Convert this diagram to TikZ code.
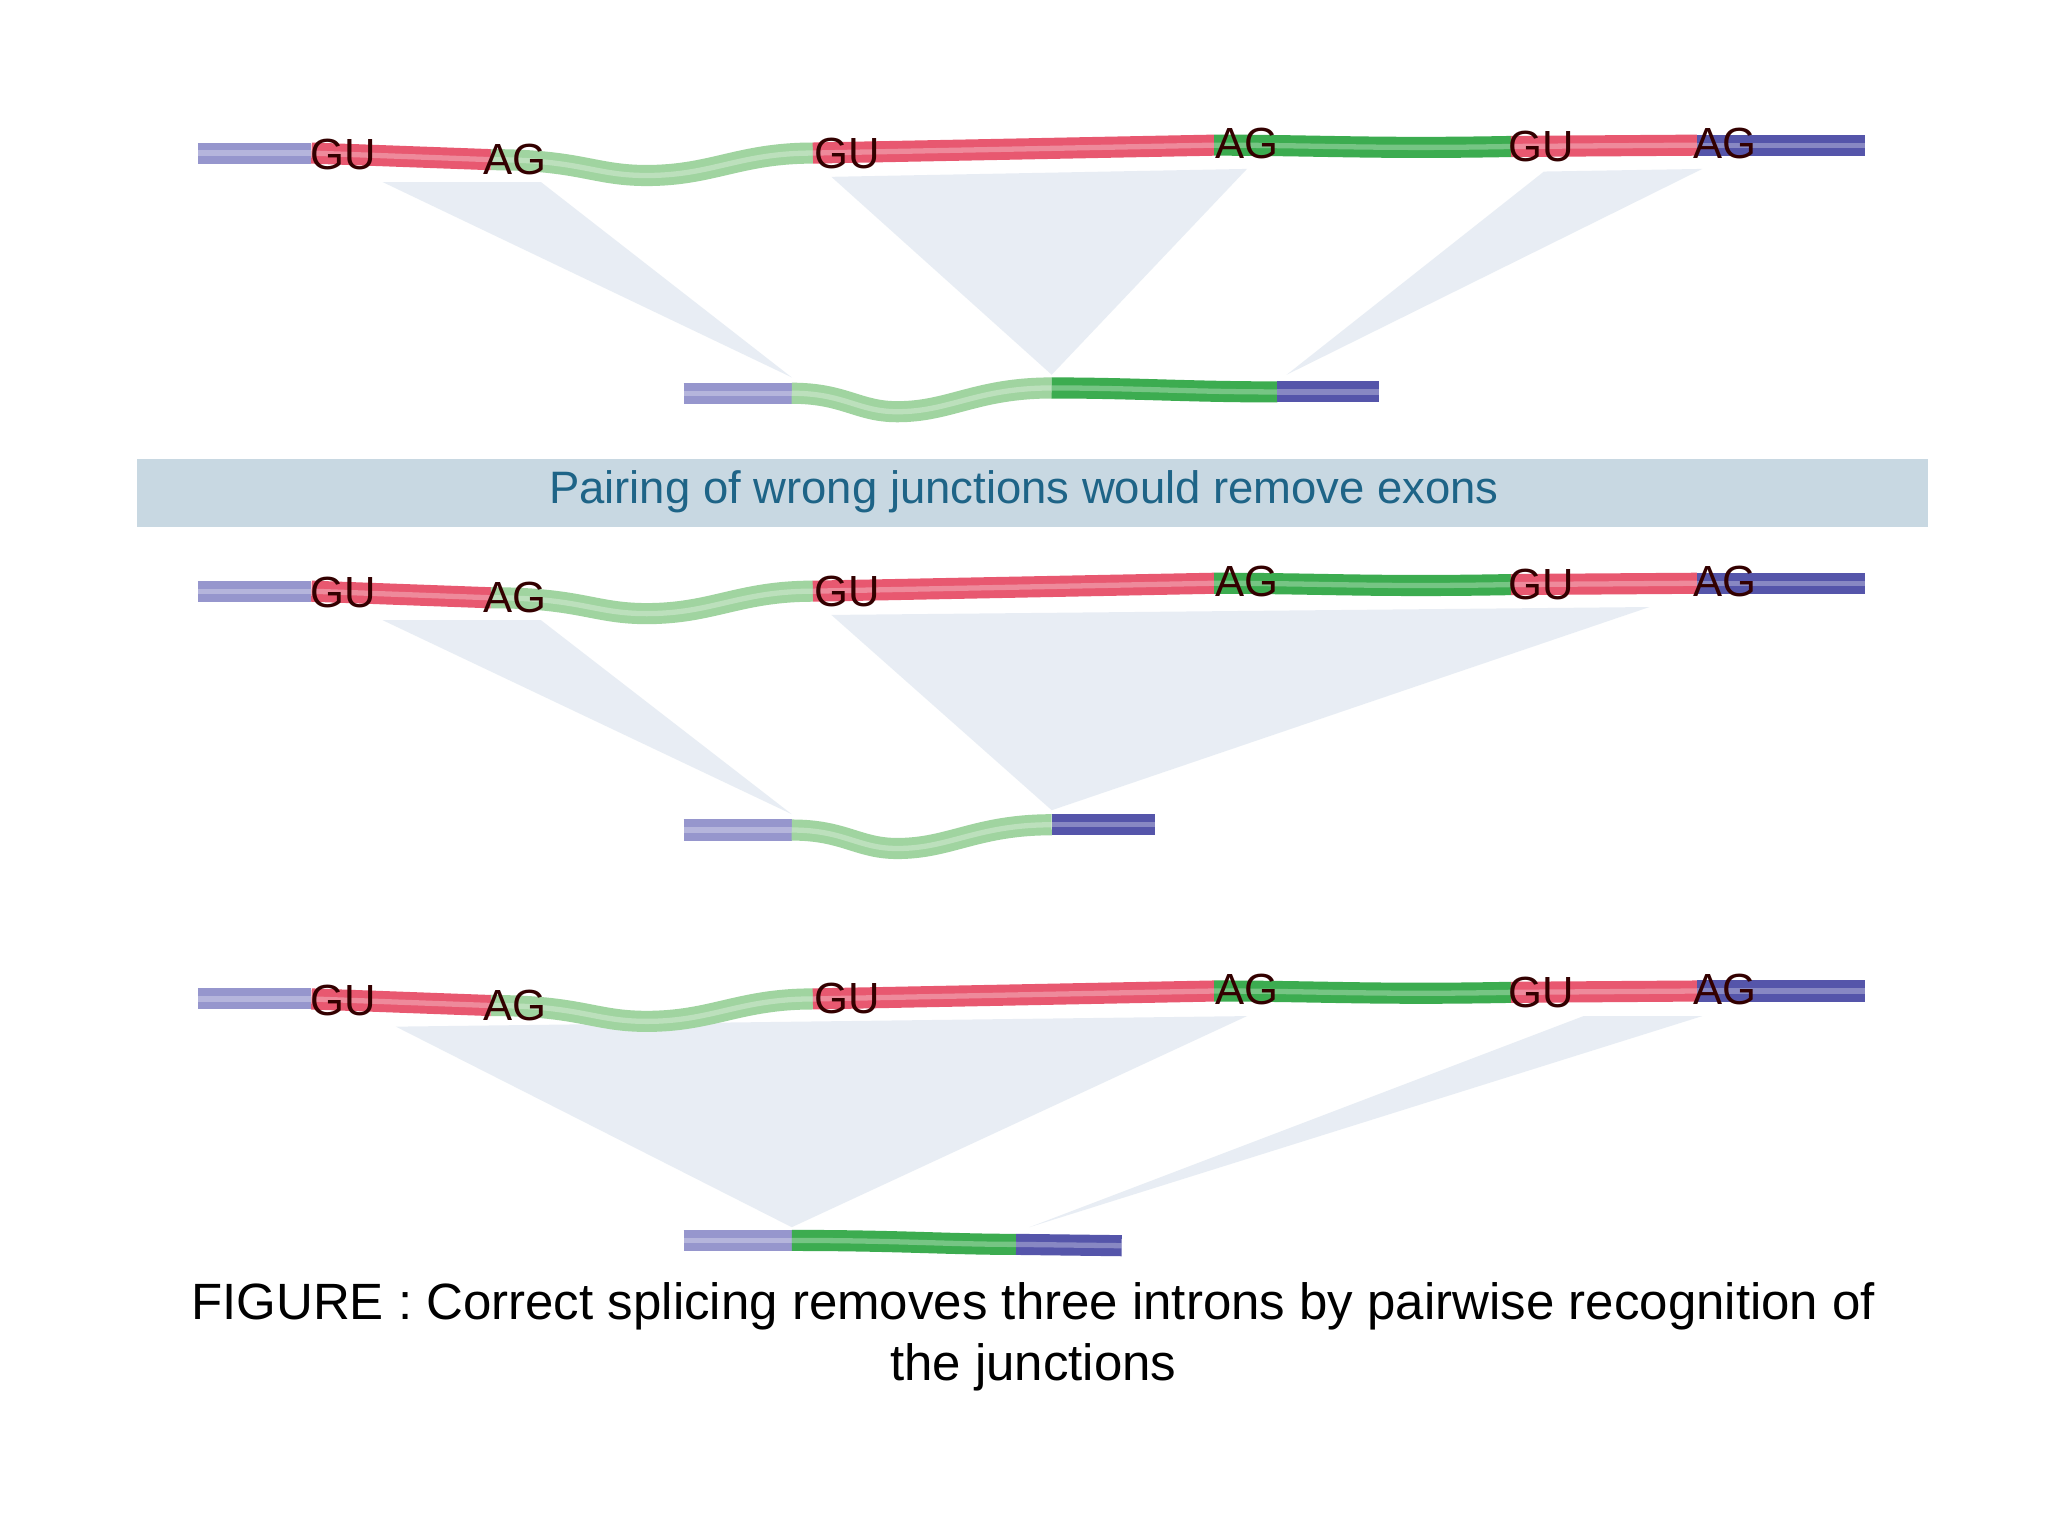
\documentclass[tikz,border=0pt]{standalone}
\usepackage{fontspec}
\setmainfont{Liberation Sans}
\begin{document}
\begin{tikzpicture}[x=0.05cm,y=-0.05cm]
\definecolor{pl}{RGB}{150,150,205}
\definecolor{pd}{RGB}{85,85,170}
\definecolor{rd}{RGB}{232,88,112}
\definecolor{gl}{RGB}{160,212,160}
\definecolor{gd}{RGB}{60,172,80}
\definecolor{wd}{RGB}{214,224,236}
\definecolor{bn}{RGB}{200,216,226}
\definecolor{bt}{RGB}{30,100,135}
\tikzset{tube/.style={line width=0.8cm,line cap=butt},
 hl/.style={line width=0.2cm,white,opacity=0.3},
 wedge/.style={fill=wd,opacity=0.55},
 lab/.style={font=\fontsize{47}{47}\selectfont,text=black!80!red,inner sep=0}}
\newcommand\tb[2]{\draw[tube,#1] #2; \draw[hl] #2;}
\newcommand\toprow[2]{%
\begin{scope}[shift={(0,#1)}]
\tb{pl}{(150,116) -- (236,116)}
\tb{rd}{(236,116) -- (372,121)}
\tb{gl}{(372,121) .. controls (440,121) and (450,133) .. (490,133) .. controls (540,133) and (560,116) .. (616,116)}
\tb{rd}{(616,116) -- (920,110)}
\tb{gd}{(920,110) .. controls (1000,110) and (1040,113) .. (1145,111)}
\tb{rd}{(1145,111) -- (1286,110)}
\tb{pd}{(1286,110) -- (1413,110)}
\node[lab] (gu1#2) at (260,117) {GU};
\node[lab] (ag1#2) at (390,121) {AG};
\node[lab] (gu2#2) at (642,116) {GU};
\node[lab] (ag2#2) at (945,109) {AG};
\node[lab] (gu3#2) at (1168,111) {GU};
\node[lab] (ag3#2) at (1307,109) {AG};
\end{scope}}
\useasboundingbox (0,0) rectangle (1552,1164);
\fill[white] (0,0) rectangle (1552,1164);
% wedges
\fill[wedge] (290,138) -- (410,138) -- (600,286) -- cycle;
\fill[wedge] (630,134) -- (945,128) -- (797,284) -- cycle;
\fill[wedge] (1170,130) -- (1290,128) -- (975,284) -- cycle;
\fill[wedge] (290,470) -- (410,470) -- (600,617) -- cycle;
\fill[wedge] (630,466) -- (1250,460) -- (797,614) -- cycle;
\fill[wedge] (300,778) -- (945,770) -- (600,930) -- cycle;
\fill[wedge] (1200,770) -- (1290,770) -- (780,930) -- cycle;
\toprow{0}{a}
\toprow{332}{b}
\toprow{641}{c}
% bottom 1
\tb{pl}{(518,298) -- (600,298)}
\tb{gl}{(600,298) .. controls (640,298) and (650,312) .. (680,312) .. controls (720,312) and (740,294) .. (797,294)}
\tb{gd}{(797,294) .. controls (860,294) and (900,297) .. (968,297)}
\tb{pd}{(968,297) -- (1045,297)}
% banner
\fill[bn] (104,348) rectangle (1461,399);
\node[font=\fontsize{49}{49}\selectfont,text=bt] (ban) at (776,373) {Pairing of wrong junctions would remove exons};
% bottom 2
\tb{pl}{(518,629) -- (600,629)}
\tb{gl}{(600,629) .. controls (640,629) and (650,643) .. (680,643) .. controls (720,643) and (740,625) .. (797,625)}
\tb{pd}{(797,625) -- (875,625)}
% bottom 3
\tb{pl}{(518,940) -- (600,940)}
\tb{gd}{(600,940) .. controls (680,940) and (720,943) .. (770,943)}
\tb{pd}{(770,943) -- (850,944)}
\node[font=\fontsize{55}{66}\selectfont,align=center] (cap) at (783,1013) {FIGURE : Correct splicing removes three introns by pairwise recognition of\\the junctions};
\end{tikzpicture}
\end{document}
